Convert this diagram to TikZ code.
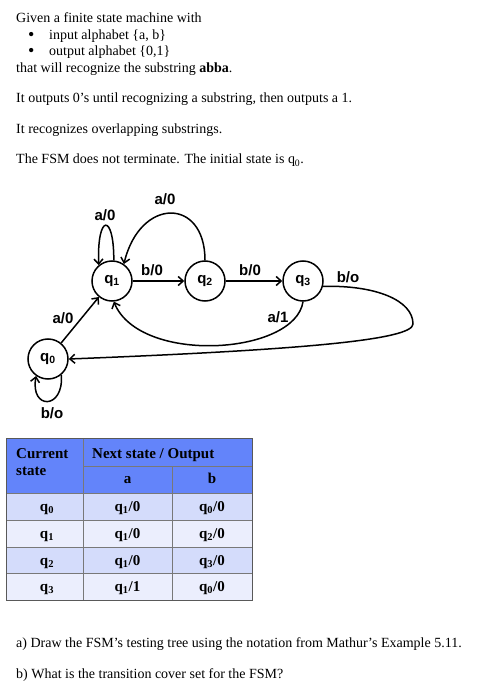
\documentclass[tikz,border=0pt]{standalone}
\usepackage{fontspec}
\setmainfont{Liberation Serif}
\newfontfamily\labfont{Liberation Sans}
\usetikzlibrary{arrows.meta}
\definecolor{hdrblue}{RGB}{99,132,250}
\definecolor{rowA}{RGB}{212,220,251}
\definecolor{rowB}{RGB}{235,238,253}
\definecolor{tblline}{RGB}{120,120,120}
\begin{document}
\begin{tikzpicture}[x=1pt,y=-1pt,
  txt/.style={anchor=base west,inner sep=0pt,font=\fontsize{14}{16}\selectfont},
  bul/.style={anchor=base west,inner sep=0pt,font=\fontsize{18}{18}\selectfont},
  fsmstate/.style={circle,draw,line width=1.5pt,minimum size=40pt,inner sep=0pt,font=\labfont\bfseries\fontsize{15}{15}\selectfont},
  lbl/.style={anchor=base,inner sep=0pt,font=\labfont\bfseries\fontsize{15}{15}\selectfont},
  trans/.style={line width=1.5pt,-{Straight Barb[length=5pt,width=9pt]}},
  tcell/.style={anchor=base,inner sep=0pt,font=\bfseries\fontsize{15}{15}\selectfont},
  thead/.style={anchor=base west,inner sep=0pt,font=\bfseries\fontsize{15}{15}\selectfont}
]
\useasboundingbox (0,0) rectangle (491,700);
\fill[white] (0,0) rectangle (491,700);

% ---- top text ----
\node[txt] (t1) at (16,23) {Given a finite state machine with};
\node[bul] (b1) at (28,40.5) {•};
\node[txt] (t2) at (49,39.5) {input alphabet \{a, b\}};
\node[bul] (b2) at (28,57) {•};
\node[txt] (t3) at (49,56) {output alphabet \{0,1\}};
\node[txt] (t4) at (16,72.5) {that will recognize the substring \textbf{abba}.};
\node[txt] (t5) at (16,103) {It outputs 0’s until recognizing a substring, then outputs a 1.};
\node[txt] (t6) at (16,133.5) {It recognizes overlapping substrings.};
\node[txt] (t7) at (16,164) {The FSM does not terminate. The initial state is q\textsubscript{0}.};

% ---- FSM ----
\node[fsmstate] (q0) at (48,359) {q\textsubscript{0}};
\node[fsmstate] (q1) at (112,281) {q\textsubscript{1}};
\node[fsmstate] (q2) at (205,281) {q\textsubscript{2}};
\node[fsmstate] (q3) at (303,281) {q\textsubscript{3}};
\coordinate (tip) at (413,324);

\draw[trans] (q1) -- (q2);
\draw[trans] (q2) -- (q3);
\draw[trans] (q0) -- (q1);
\draw[trans] (q1.85) .. controls (114,213) and (97,213) .. (q1.130);
\draw[trans] (q2.90) .. controls (205,197) and (140,197) .. (q1.55);
\draw[trans] (q3.270) .. controls (295,355) and (140,365) .. (q1.275);
\draw[trans] (q3.-15) .. controls (375,285) and (413,300) .. (tip) .. controls (413,340) and (300,350) .. (q0.east);
\draw[trans] (q0.-50) .. controls (64,410) and (30,410) .. (q0.-125);

\node[lbl] (l1) at (105,221) {a/0};
\node[lbl] (l2) at (165,205) {a/0};
\node[lbl] (l3) at (152,275) {b/0};
\node[lbl] (l4) at (250,275) {b/0};
\node[lbl] (l5) at (348,282) {b/o};
\node[lbl] (l6) at (278,322) {a/1};
\node[lbl] (l7) at (63,323) {a/0};
\node[lbl] (l8) at (52,418) {b/o};

% ---- table ----
\fill[hdrblue] (6,438) rectangle (252,493);
\fill[rowA] (6,493) rectangle (252,520);
\fill[rowB] (6,520) rectangle (252,547);
\fill[rowA] (6,547) rectangle (252,573);
\fill[rowB] (6,573) rectangle (252,600);
\draw[tblline,line width=0.8pt] (6,493) -- (252,493) (6,520) -- (252,520)
  (6,547) -- (252,547) (6,573) -- (252,573) (83,466) -- (252,466)
  (83,438) -- (83,600) (172,466) -- (172,600);
\draw[black!65,line width=1pt] (6,438) rectangle (252,600);

\node[thead] (h1) at (16,458) {Current};
\node[thead] (h2) at (16,475.5) {state};
\node[thead] (h3) at (92,458) {Next state / Output};
\node[tcell] (ha) at (127.5,483.5) {a};
\node[tcell] (hb) at (212,483.5) {b};

\node[tcell] (c00) at (47,511) {q\textsubscript{0}};
\node[tcell] (c01) at (127.5,511) {q\textsubscript{1}/0};
\node[tcell] (c02) at (212,511) {q\textsubscript{0}/0};
\node[tcell] (c10) at (47,538) {q\textsubscript{1}};
\node[tcell] (c11) at (127.5,538) {q\textsubscript{1}/0};
\node[tcell] (c12) at (212,538) {q\textsubscript{2}/0};
\node[tcell] (c20) at (47,565) {q\textsubscript{2}};
\node[tcell] (c21) at (127.5,565) {q\textsubscript{1}/0};
\node[tcell] (c22) at (212,565) {q\textsubscript{3}/0};
\node[tcell] (c30) at (47,591.5) {q\textsubscript{3}};
\node[tcell] (c31) at (127.5,591.5) {q\textsubscript{1}/1};
\node[tcell] (c32) at (212,591.5) {q\textsubscript{0}/0};

% ---- bottom text ----
\node[txt] (t8) at (16,647.5) {a) Draw the FSM’s testing tree using the notation from Mathur’s Example 5.11.};
\node[txt] (t9) at (16,678) {b) What is the transition cover set for the FSM?};
\end{tikzpicture}
\end{document}
